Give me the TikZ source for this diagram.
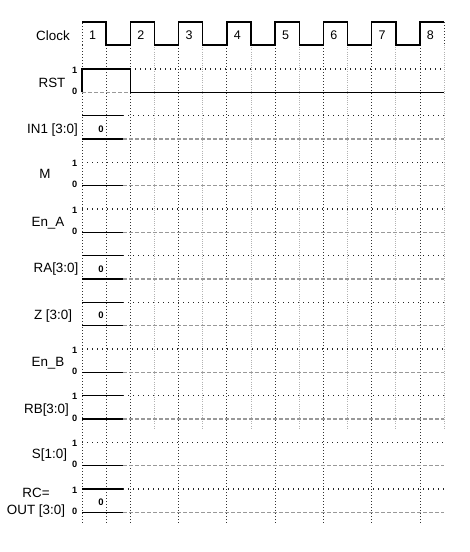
\documentclass[tikz,border=0pt]{standalone}
\usepackage{fontspec}
\setmainfont{Liberation Sans}
\usetikzlibrary{positioning}

\begin{document}
\begin{tikzpicture}[
            x=1pt, y=-1pt,
            wave/.style={black, line width=1.4pt},
            hiline/.style={black!85, line width=1.2pt, dash pattern=on 1.2pt off 3.8pt},
            loline/.style={black!40, line width=1.3pt, dash pattern=on 4pt off 2pt},
            riseline/.style={black!80, line width=0.9pt, dash pattern=on 1pt off 2pt},
            fallline/.style={black!30, line width=0.9pt, dash pattern=on 1pt off 1.2pt},
            signame/.style={anchor=base, inner sep=0pt, font=\fontsize{13.4}{15}\selectfont},
            level/.style={anchor=east, inner sep=0pt, font=\bfseries\fontsize{9.2}{10}\selectfont},
            busval/.style={inner sep=0pt, font=\bfseries\fontsize{9.5}{10}\selectfont},
            cycnum/.style={inner sep=0pt, font=\fontsize{12.5}{14}\selectfont},
            declare function={rowy(\r)=69+46.67*\r; risex(\k)=82+48.28*\k;}
        ]
            \useasboundingbox (0,0) rectangle (470,552);
            \def\xs{82}   % start of all waves
            \def\xb{123}  % end of the known part
            \def\xe{444}  % end of the time axis
            \def\hh{23.3} % height of one level

            % time grid
            \foreach \k in {0,...,7}
                \draw[riseline] ({risex(\k)},45) -- ({risex(\k)},523);
            \draw[riseline] ({risex(0)+24.14},45) -- ({risex(0)+24.14},523);
            \foreach \k in {1,...,7}
                \draw[fallline] ({risex(\k)+24.14},45) -- ({risex(\k)+24.14},430);

            % clock
            \draw[wave] (\xs,22)
                \foreach \k in {0,...,6} {
                    -- ({risex(\k)},22) -- ({risex(\k)+24.14},22)
                    -- ({risex(\k)+24.14},45) -- ({risex(\k+1)},45) -- ({risex(\k+1)},22)
                } -- (\xe,22);
            \draw[riseline] (\xs,45) -- (\xs,22);
            \draw[riseline] (\xe,22) -- (\xe,45);
            \foreach \k in {1,...,8}
                \node[cycnum] (cyc-\k) at ({risex(\k-1)+10.5},35) {\k};

            % RST
            \draw[loline] (\xs,{rowy(0)+\hh}) -- ({risex(1)},{rowy(0)+\hh});
            \draw[hiline] ({risex(1)},{rowy(0)}) -- (\xe,{rowy(0)});
            \draw[wave] (\xs,{rowy(0)+\hh}) -- (\xs,{rowy(0)}) -- ({risex(1)},{rowy(0)})
                -- ({risex(1)},{rowy(0)+\hh}) -- (\xe,{rowy(0)+\hh});

            % other signals, only the first half cycle is known
            \foreach \r in {1,...,9} {
                \draw[loline] (\xb,{rowy(\r)+\hh}) -- (\xe,{rowy(\r)+\hh});
                \draw[wave] (\xs,{rowy(\r)+\hh}) -- (\xb,{rowy(\r)+\hh});
            }
            \foreach \r in {2,3,6,8}
                \draw[hiline] (\xs,{rowy(\r)}) -- (\xe,{rowy(\r)});
            \foreach \r in {1,4,5,7,9} {
                \draw[hiline] (\xb,{rowy(\r)}) -- (\xe,{rowy(\r)});
                \draw[wave] (\xs,{rowy(\r)}) -- (\xb,{rowy(\r)});
            }

            % level marks and bus values
            \foreach \r in {0,2,3,6,7,8,9} {
                \node[level] (one-\r) at (77.5,{rowy(\r)+1}) {1};
                \node[level] (zero-\r) at (77.5,{rowy(\r)+\hh-1}) {0};
            }
            \foreach \r in {1,4,5,9}
                \node[busval] (val-\r) at (101,{rowy(\r)+\hh/2+1.5}) {0};

            % signal names
            \node[signame] (sig-clock) at (53,40) {Clock};
            \node[signame] (sig-rst) at (52,87) {RST};
            \node[signame] (sig-in) at (52.5,133) {IN1 [3:0]};
            \node[signame] (sig-m) at (45,178) {M};
            \node[signame] (sig-ena) at (48,226) {En\_A};
            \node[signame] (sig-ra) at (56,272) {RA[3:0]};
            \node[signame] (sig-z) at (53,319.5) {Z [3:0]};
            \node[signame] (sig-enb) at (48,366) {En\_B};
            \node[signame] (sig-rb) at (46.5,413) {RB[3:0]};
            \node[signame] (sig-s) at (49.5,458) {S[1:0]};
            \node[signame] (sig-rc) at (36,497) {RC=};
            \node[signame] (sig-out) at (36,514) {OUT [3:0]};
        \end{tikzpicture}
\end{document}
